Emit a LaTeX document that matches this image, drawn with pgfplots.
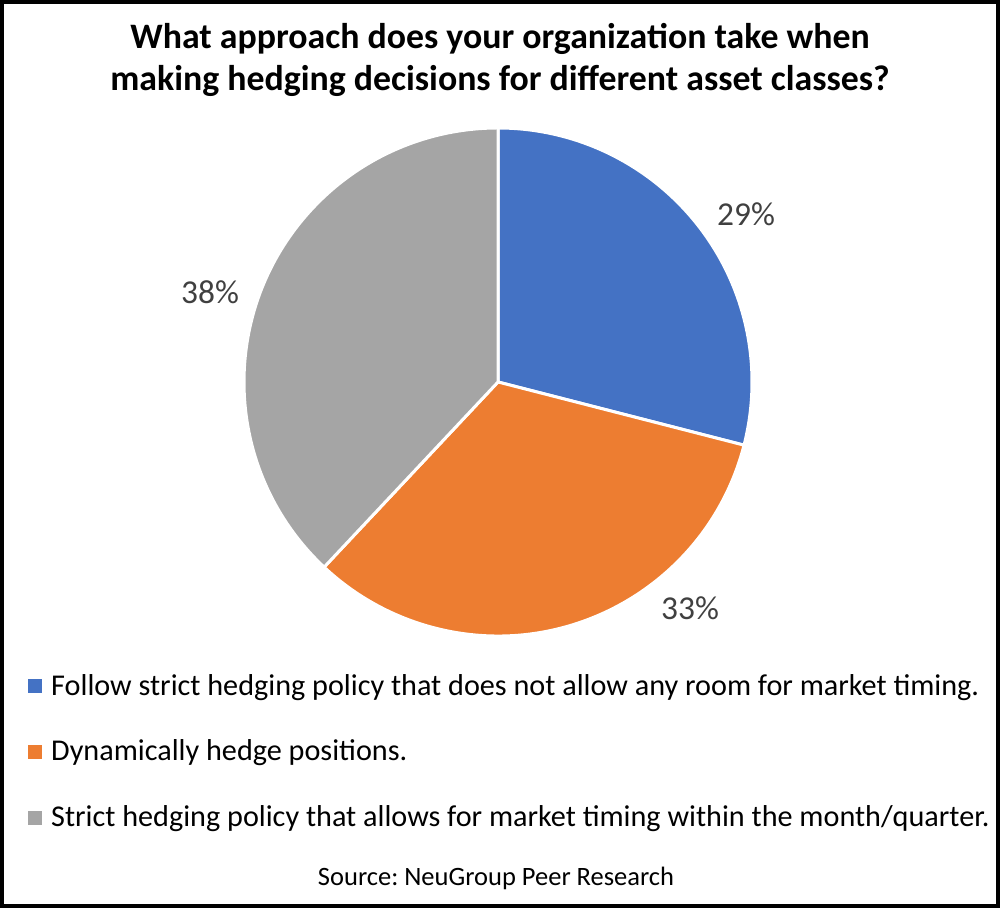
\documentclass[border=0pt]{standalone}
\usepackage{pgfplots}
\usepackage{pgfplotstable}
\pgfplotsset{compat=1.18}
\usepackage{fontspec}
\setmainfont{Carlito}
\frenchspacing

\definecolor{cblue}{HTML}{4472C4}
\definecolor{corange}{HTML}{ED7D31}
\definecolor{cgray}{HTML}{A5A5A5}
\definecolor{clabel}{HTML}{404040}

% shares in percent, clockwise from 12 o'clock
\pgfplotstableread{
value
29
33
38
}\piedata
\pgfplotstablegetelem{0}{value}\of\piedata \let\vA\pgfplotsretval
\pgfplotstablegetelem{1}{value}\of\piedata \let\vB\pgfplotsretval
\pgfplotstablegetelem{2}{value}\of\piedata \let\vC\pgfplotsretval
\pgfmathsetmacro\aA{90}
\pgfmathsetmacro\aB{\aA-3.6*\vA}
\pgfmathsetmacro\aC{\aB-3.6*\vB}
\pgfmathsetmacro\aD{\aC-3.6*\vC}

\begin{document}
\begin{tikzpicture}
\begin{axis}[
  width=500pt, height=454pt, scale only axis,
  xmin=0, xmax=1000, ymin=0, ymax=908,
  hide axis, clip=false,
  legend style={at={(axis cs:28,238)}, anchor=north west, draw=none, fill=none,
    font=\fontsize{15.1}{18}\selectfont, row sep=16.8pt, inner sep=0pt,
    nodes={inner xsep=4.5pt}},
  legend cell align=left,
  legend image code/.code={\fill[#1] (0pt,-3.25pt) rectangle (6.5pt,3.25pt);},
]
\addlegendimage{cblue}
\addlegendimage{corange}
\addlegendimage{cgray}
\legend{Follow strict hedging policy that does not allow any room for market timing.,
  Dynamically hedge positions.,
  Strict hedging policy that allows for market timing within the month/quarter.}

\fill[cblue, draw=white, line width=1.5pt] (axis cs:498,526) -- ++(\aA:127pt)
  arc[start angle=\aA, end angle=\aB, radius=127pt] -- cycle;
\fill[corange, draw=white, line width=1.5pt] (axis cs:498,526) -- ++(\aB:127pt)
  arc[start angle=\aB, end angle=\aC, radius=127pt] -- cycle;
\fill[cgray, draw=white, line width=1.5pt] (axis cs:498,526) -- ++(\aC:127pt)
  arc[start angle=\aC, end angle=\aD, radius=127pt] -- cycle;

\node[text=clabel, font=\fontsize{16.7}{20}\selectfont] at (axis cs:746,694) {29\%};
\node[text=clabel, font=\fontsize{16.7}{20}\selectfont] at (axis cs:690,300) {33\%};
\node[text=clabel, font=\fontsize{16.7}{20}\selectfont] at (axis cs:210,616) {38\%};

\node[align=center, font=\bfseries\fontsize{17.9}{21}\selectfont] at (axis cs:500,848)
  {What approach does your organization take when\\making hedging decisions for different asset classes?};
\node[font=\fontsize{13.25}{15}\selectfont] at (axis cs:496,30) {Source: NeuGroup Peer Research};

\draw[line width=2pt] (axis cs:2,2) rectangle (axis cs:998,906);
\end{axis}
\end{tikzpicture}
\end{document}
